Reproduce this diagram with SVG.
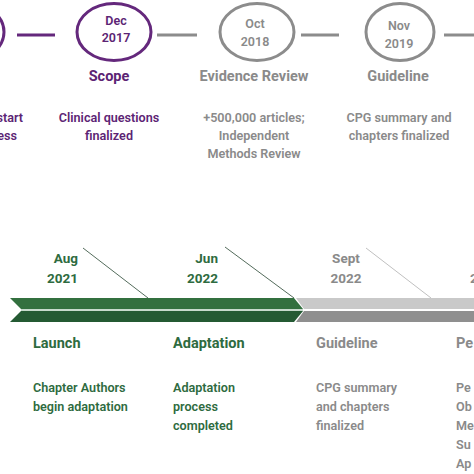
<svg xmlns="http://www.w3.org/2000/svg" width="474" height="474" viewBox="0 0 474 474">
<style>
text{font-family:Roboto,"Liberation Sans",sans-serif;font-weight:500}
.pu{fill:#5c2474}
.gy{fill:#8a8a8a}
.gn{fill:#2e6b40}
.h{font-size:14.5px;font-weight:700}
.d{font-size:12.6px;font-weight:600}
.dt{font-size:12.5px;font-weight:600}
.bd{font-size:13.5px;font-weight:700}
.m{text-anchor:middle}
.e{text-anchor:end}
.ep{fill:none;stroke:#64287c;stroke-width:3}
.eg{fill:none;stroke:#8c8c8c;stroke-width:3}
.lp{stroke:#64287c;stroke-width:3}
.lg{stroke:#8c8c8c;stroke-width:3}
</style>
<rect width="474" height="474" fill="#ffffff"/>
<g id="connectors">
<line class="lp" x1="17" y1="35" x2="55" y2="35"/>
<line class="lg" x1="157" y1="35" x2="197" y2="35"/>
<line class="lg" x1="301" y1="35" x2="339" y2="35"/>
<line class="lg" x1="444" y1="35" x2="474" y2="35"/>
<line x1="83" y1="248" x2="148" y2="298" stroke="#3f5a48" stroke-width="0.9"/>
<line x1="225" y1="247" x2="294" y2="298" stroke="#3f5a48" stroke-width="0.9"/>
<line x1="366" y1="248" x2="431" y2="298" stroke="#b8b8b8" stroke-width="0.9"/>
</g>
<g id="node-start">
<ellipse class="ep" cx="-30" cy="32" rx="34" ry="28"/>
<text class="pu d e" x="23" y="122">start</text>
<text class="pu d e" x="17" y="140">ess</text>
</g>
<g id="node-scope">
<ellipse class="ep" cx="114" cy="32" rx="37" ry="28.5"/>
<text class="pu dt m" x="116" y="25">Dec</text>
<text class="pu dt m" x="116" y="42">2017</text>
<text class="pu h m" x="109" y="81">Scope</text>
<text class="pu d m" x="109" y="122">Clinical questions</text>
<text class="pu d m" x="109" y="140">finalized</text>
</g>
<g id="node-evidence">
<ellipse class="eg" cx="257" cy="32" rx="37" ry="28.5"/>
<text class="gy dt m" x="255" y="28">Oct</text>
<text class="gy dt m" x="255" y="46">2018</text>
<text class="gy h m" x="254" y="81">Evidence Review</text>
<text class="gy d m" x="254" y="122">+500,000 articles;</text>
<text class="gy d m" x="254" y="140">Independent</text>
<text class="gy d m" x="254" y="158">Methods Review</text>
</g>
<g id="node-guideline-top">
<ellipse class="eg" cx="400" cy="32" rx="34" ry="28.5"/>
<text class="gy dt m" x="399" y="30">Nov</text>
<text class="gy dt m" x="399" y="48">2019</text>
<text class="gy h m" x="398" y="81">Guideline</text>
<text class="gy d m" x="399" y="122">CPG summary and</text>
<text class="gy d m" x="399" y="140">chapters finalized</text>
</g>
<g id="band">
<polygon points="296,298 474,298 474,309 304,309" fill="#c9c9c9"/>
<polygon points="304,311 474,311 474,322 296,322" fill="#8f8f8f"/>
<polygon points="10,298 294,298 303,309 21,309" fill="#33703f"/>
<polygon points="21,311 303,311 294,322 10,322" fill="#245a33"/>
<line x1="21" y1="310" x2="303" y2="310" stroke="#8fb59a" stroke-width="1"/>
</g>
<g id="node-launch">
<text class="gn bd e" x="78" y="263">Aug</text>
<text class="gn bd e" x="78" y="283">2021</text>
<text class="gn h" x="33" y="348">Launch</text>
<text class="gn d" x="33" y="392">Chapter Authors</text>
<text class="gn d" x="33" y="411">begin adaptation</text>
</g>
<g id="node-adaptation">
<text class="gn bd e" x="218" y="263">Jun</text>
<text class="gn bd e" x="218" y="283">2022</text>
<text class="gn h" x="173" y="348">Adaptation</text>
<text class="gn d" x="173" y="392">Adaptation</text>
<text class="gn d" x="173" y="411">process</text>
<text class="gn d" x="173" y="430">completed</text>
</g>
<g id="node-guideline-bottom">
<text class="gy bd m" x="346" y="263">Sept</text>
<text class="gy bd m" x="346" y="283">2022</text>
<text class="gy h" x="316" y="348">Guideline</text>
<text class="gy d" x="316" y="392">CPG summary</text>
<text class="gy d" x="316" y="411">and chapters</text>
<text class="gy d" x="316" y="430">finalized</text>
</g>
<g id="node-peer">
<text class="gy bd" x="470" y="283">2</text>
<text class="gy h" x="456" y="348">Pe</text>
<text class="gy d" x="456" y="392">Pe</text>
<text class="gy d" x="456" y="411">Ob</text>
<text class="gy d" x="456" y="430">Me</text>
<text class="gy d" x="456" y="449">Su</text>
<text class="gy d" x="456" y="468">Ap</text>
</g>
</svg>
